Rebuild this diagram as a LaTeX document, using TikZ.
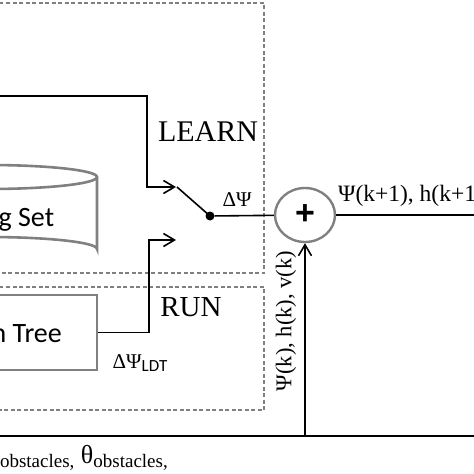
\documentclass[tikz,border=0pt]{standalone}
\usepackage{fontspec}
\setmainfont{Liberation Serif}
\newfontfamily\boxfont{Carlito}
\newfontfamily\plusfont{Liberation Sans}
\usetikzlibrary{arrows.meta,shapes.geometric}
\newcommand{\lowtxt}[2]{\raisebox{-0.35ex}{\fontsize{#1}{#1}\selectfont #2}}

\begin{document}
\begin{tikzpicture}[x=1pt,y=-1pt,
    wire/.style={line width=1.6pt, black},
    feed/.style={wire, -{Straight Barb[length=11pt,width=13pt]}},
    zone/.style={gray, line width=1.3pt, dash pattern=on 4pt off 2.5pt},
    block/.style={draw=gray, line width=2.6pt},
    boxtxt/.style={font=\boxfont\fontsize{28}{28}\selectfont},
    lbl/.style={inner sep=0pt, font=\fontsize{21}{21}\selectfont}]
    \useasboundingbox (0,0) rectangle (474,474);
    \clip (0,0) rectangle (474,474);

    % Dashed zones
    \draw[zone] (-20,3) -- (264,3) -- (264,273) -- (-20,273);
    \draw[zone] (-20,287) -- (264,287) -- (264,410) -- (-20,410);

    % Training set
    \draw[block] (-121,177) -- (-121,249) arc[start angle=180, end angle=360, x radius=109, y radius=12] -- (97,177);
    \draw[block] (-12,177) ellipse[x radius=109, y radius=12];
    \node[boxtxt] (trainset) at (-12,219) {Training Set};

    % Decision tree
    \node[block, boxtxt, minimum width=222pt, minimum height=75pt] (tree) at (-14,332.5) {Decision Tree};

    % Switch inputs
    \coordinate (learnin) at (-20,96);
    \coordinate (upin) at (176,187);
    \coordinate (lowin) at (176,240);
    \draw[feed] (learnin) -| (147,187) -- (upin);
    \draw[feed] (tree.east) -| (149,240) -- (lowin);

    % Switch and sum
    \coordinate (lever) at (177,187);
    \node[circle, fill, inner sep=0pt, minimum size=9pt] (pivot) at (210,216) {};
    \draw[wire] (lever) -- (pivot.center);
    \node[ellipse, draw=gray, line width=2.4pt, minimum width=60pt, minimum height=54pt, inner sep=0pt,
        font=\plusfont\bfseries\fontsize{34}{34}\selectfont] (sum) at (305,215) {+};
    \draw[wire] (pivot) -- (sum);

    % Output and feedback
    \coordinate (out) at (490,215);
    \draw[wire] (sum) -- (out);
    \coordinate (busleft) at (-20,436);
    \coordinate (busright) at (490,436);
    \coordinate (fb) at (305,436);
    \draw[wire] (busleft) -- (busright);
    \draw[feed] (fb) -- (sum);

    % Labels
    \node[lbl, font=\fontsize{30}{30}\selectfont] (learn) at (208,132) {LEARN};
    \node[lbl, font=\fontsize{29}{29}\selectfont] (run) at (191,307) {RUN};
    \node[lbl] (dpsi) at (237,200) {ΔΨ};
    \node[lbl] (dpsildt) at (140,363) {ΔΨ\lowtxt{17}{\boxfont LDT}};
    \node[lbl, anchor=west, font=\fontsize{23.5}{23.5}\selectfont] (next) at (338,196) {Ψ(k+1), h(k+1)};
    \node[lbl, rotate=90, font=\fontsize{22.5}{22.5}\selectfont] (state) at (286,321) {Ψ(k), h(k), v(k)};
    \node[lbl, anchor=east, font=\fontsize{26}{26}\selectfont] (obst) at (168,458) {ρ\lowtxt{19}{obstacles,} θ\lowtxt{19}{obstacles,}};
\end{tikzpicture}
\end{document}
